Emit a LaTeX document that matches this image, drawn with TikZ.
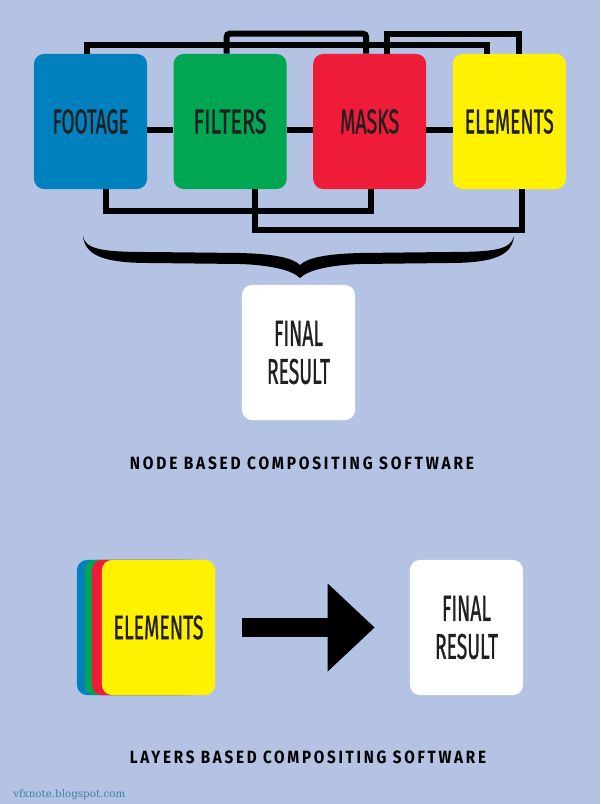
\documentclass[tikz,border=0pt]{standalone}
\usepackage{fontspec}
\newfontfamily\cardfont[FakeBold=1.2]{Fira Sans}
\newfontfamily\capfont[LetterSpace=18]{Fira Sans}
\newfontfamily\urlfont{DejaVu Serif}
\usetikzlibrary{positioning,calc,arrows.meta}

\definecolor{pagebg}{HTML}{B4C3E4}
\definecolor{cblue}{HTML}{0080BD}
\definecolor{cgreen}{HTML}{00A651}
\definecolor{cred}{HTML}{EE1C39}
\definecolor{cyellow}{HTML}{FFF200}
\definecolor{ink}{HTML}{231F20}
\definecolor{urlcol}{HTML}{3F7FAA}

\newcommand{\cardlabel}[3][0.6cm]{\resizebox{#2}{#1}{\cardfont #3}}
\newcommand{\capline}[2]{\resizebox{#1}{0.315cm}{\capfont\bfseries #2}}

\tikzset{
  card/.style={rounded corners=0.25cm, minimum width=2.825cm, minimum height=3.375cm, inner sep=0pt, text=ink},
  twoline/.style={align=center, font={\fontsize{10}{27}\selectfont}},
  link/.style={line width=0.15cm, black},
  bigarrow/.style={line width=0.475cm, black, -{Triangle[length=1.175cm,width=2.125cm]}},
}

\begin{document}
\begin{tikzpicture}[x=0.025cm, y=-0.025cm]
\fill[pagebg] (0,0) rectangle (600,804);

% node based
\node[card, fill=cblue] (footage) at (90.5,121.5) {\cardlabel{1.9cm}{FOOTAGE}};
\node[card, fill=cgreen, right=0.65cm of footage] (filters) {\cardlabel{1.825cm}{FILTERS}};
\node[card, fill=cred, right=0.65cm of filters] (masks) {\cardlabel{1.475cm}{MASKS}};
\node[card, fill=cyellow, right=0.65cm of masks] (elements) {\cardlabel{2.225cm}{ELEMENTS}};

\foreach \a/\b in {footage/filters, filters/masks, masks/elements}
  \draw[link] ($(\a.east)+(0,8)$) -- ($(\b.west)+(0,8)$);
\draw[link] ($(footage.north)+(-3.5,0)$) -- ++(0,-9) -| ($(elements.north)+(-22.5,0)$);
\draw[link, rounded corners=0.08cm] ($(filters.north)+(-3.5,0)$) -- ++(0,-20) -| ($(masks.north)+(-3.5,0)$);
\draw[link] ($(masks.north)+(17.5,0)$) -- ++(0,-20) -| ($(elements.north)+(9.5,0)$);
\draw[link] ($(footage.south)+(15.5,0)$) -- ++(0,22) -| ($(masks.south)+(1.5,0)$);
\draw[link] ($(filters.south)+(24.5,0)$) -- ++(0,41) -| ($(elements.south)+(12.5,0)$);

% brace
\fill[black] (83,236) .. controls (85,250) and (105,252) .. (150,252) -- (240,253)
  .. controls (275,254) and (293,258) .. (300,265)
  .. controls (307,258) and (325,254) .. (360,253) -- (448,252)
  .. controls (493,252) and (511,250) .. (514,236)
  .. controls (512,256) and (493,263) .. (448,263) -- (360,264)
  .. controls (330,265) and (308,270) .. (300,278)
  .. controls (292,270) and (270,265) .. (240,264) -- (150,263)
  .. controls (105,263) and (85,256) .. (83,236) -- cycle;

\node[card, fill=white, twoline] (result) at (298.5,352.5) {\cardlabel[0.625cm]{1.225cm}{FINAL}\\\cardlabel[0.625cm]{1.575cm}{RESULT}};
\node (nodecap) at (302,463) {\capline{8.6cm}{NODE BASED COMPOSITING SOFTWARE}};

% layers based
\foreach \c/\x in {cblue/133.5, cgreen/141.5, cred/148.5}
  \node[card, fill=\c] (lay\c) at (\x,627.5) {};
\node[card, fill=cyellow] (layers) at (158.5,627.5) {\cardlabel[0.59cm]{2.25cm}{ELEMENTS}};
\node[card, fill=white, twoline] (final) at (466.5,627.5) {\cardlabel[0.625cm]{1.225cm}{FINAL}\\\cardlabel[0.625cm]{1.575cm}{RESULT}};
\draw[bigarrow] ($(layers.east)+(27,0)$) -- ($(final.west)+(-35,0)$);
\node (layercap) at (308,757) {\capline{8.9cm}{LAYERS BASED COMPOSITING SOFTWARE}};

\node[anchor=west, inner sep=0pt, text=urlcol] (blog) at (13,795) {\resizebox{2.8cm}{!}{\urlfont vfxnote.blogspot.com}};
\end{tikzpicture}
\end{document}
